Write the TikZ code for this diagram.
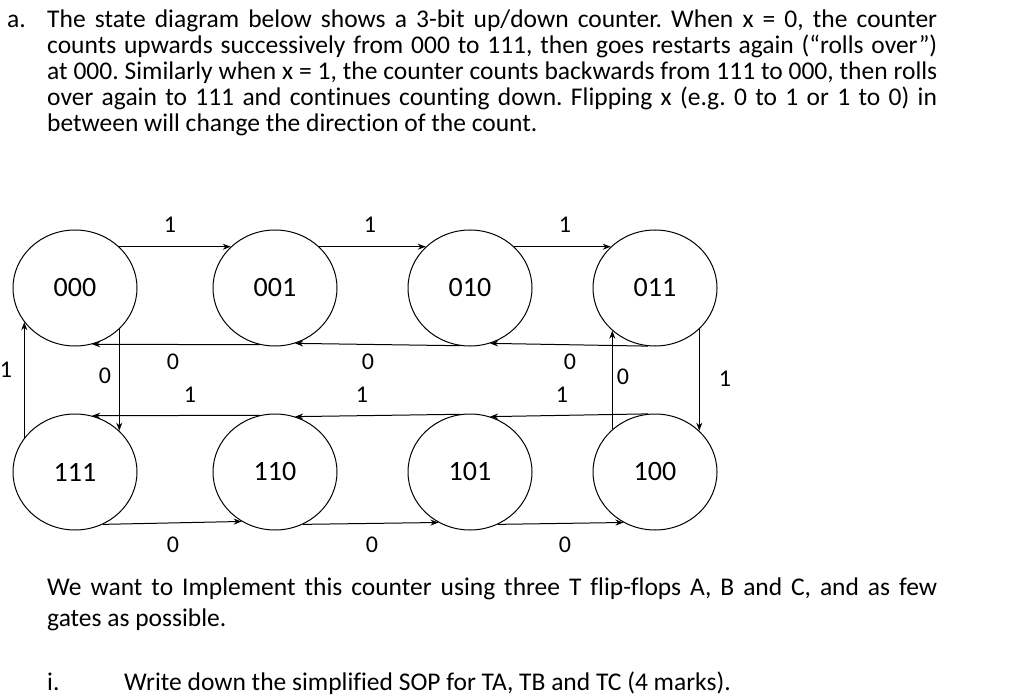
\documentclass[tikz,border=0pt]{standalone}
\usepackage{fontspec}
\setmainfont[Ligatures=NoCommon]{Carlito}
\usetikzlibrary{arrows.meta,shapes.geometric}
\frenchspacing
\newcommand{\jline}[1]{\hbox to 890pt{\spaceskip=0.22em plus 1em minus 0.06em #1}}
\begin{document}
\begin{tikzpicture}[x=1pt,y=-1pt,
  st/.style={draw,ellipse,minimum width=124pt,minimum height=116pt,inner sep=0pt,font=\fontsize{28}{28}\selectfont,line width=1pt},
  ar/.style={-{Stealth[length=8pt,width=6pt]},line width=1pt},
  lb/.style={font=\fontsize{24}{24}\selectfont,inner sep=0pt},
  tx/.style={anchor=base west,inner sep=0pt,font=\fontsize{25.5}{25.5}\selectfont}]
\useasboundingbox (0,0) rectangle (1024,700);
\node[st] (s000) at (75,288) {000};
\node[st] (s001) at (275,288) {001};
\node[st] (s010) at (470,288) {010};
\node[st] (s011) at (655,288) {011};
\node[st] (s111) at (75,472) {111};
\node[st] (s110) at (275,472) {110};
\node[st] (s101) at (470,472) {101};
\node[st] (s100) at (655,472) {100};
% top row, x=1
\draw[ar] (s000.43) -- (s001.137);
\draw[ar] (s001.43) -- (s010.137);
\draw[ar] (s010.43) -- (s011.137);
% lower of top row, x=0
\draw[ar] (s001.-105) -- (s000.-73);
\draw[ar] (s010.-100) -- (s001.-70);
\draw[ar] (s011.-97) -- (s010.-70);
% upper of bottom row, x=1
\draw[ar] (s110.105) -- (s111.73);
\draw[ar] (s101.100) -- (s110.70);
\draw[ar] (s100.97) -- (s101.70);
% bottom row, x=0
\draw[ar] (s111.-62) -- (s110.-124);
\draw[ar] (s110.-62) -- (s101.-122);
\draw[ar] (s101.-62) -- (s100.-122);
% verticals
\draw[ar] (s000.-43) -- (s111.43);
\draw[ar] (s111.146) -- (s000.-146);
\draw[ar] (s011.-43) -- (s100.43);
\draw[ar] (s100.135) -- (s011.-135);
% labels
\foreach \x in {170,370,565} \node[lb] at (\x,225) {1};
\foreach \x in {173,368,570} \node[lb] at (\x,362) {0};
\foreach \x in {190,362,562} \node[lb] at (\x,395) {1};
\foreach \x in {173,372,565} \node[lb] at (\x,545) {0};
\node[lb] (l1) at (6,370) {1};
\node[lb] (l2) at (105,376) {0};
\node[lb] (l3) at (623,377) {0};
\node[lb] (l4) at (725,379) {1};
% text
\node[tx] (ta) at (7,28) {a.};
\node[tx] (t1) at (47,28) {\jline{The state diagram below shows a 3-bit up/down counter. When x = 0, the counter}};
\node[tx] (t2) at (47,54) {\jline{counts upwards successively from 000 to 111, then goes restarts again (“rolls over”)}};
\node[tx] (t3) at (47,80) {\jline{at 000. Similarly when x = 1, the counter counts backwards from 111 to 000, then rolls}};
\node[tx] (t4) at (47,106) {\jline{over again to 111 and continues counting down. Flipping x (e.g. 0 to 1 or 1 to 0) in}};
\node[tx] (t5) at (47,132) {between will change the direction of the count.};
\node[tx] (t6) at (47,595) {\jline{We want to Implement this counter using three T flip-flops A, B and C, and as few}};
\node[tx] (t7) at (47,626) {gates as possible.};
\node[tx] (ti) at (47,690) {i.};
\node[tx] (t8) at (124,690) {Write down the simplified SOP for TA, TB and TC (4 marks).};
\end{tikzpicture}
\end{document}
